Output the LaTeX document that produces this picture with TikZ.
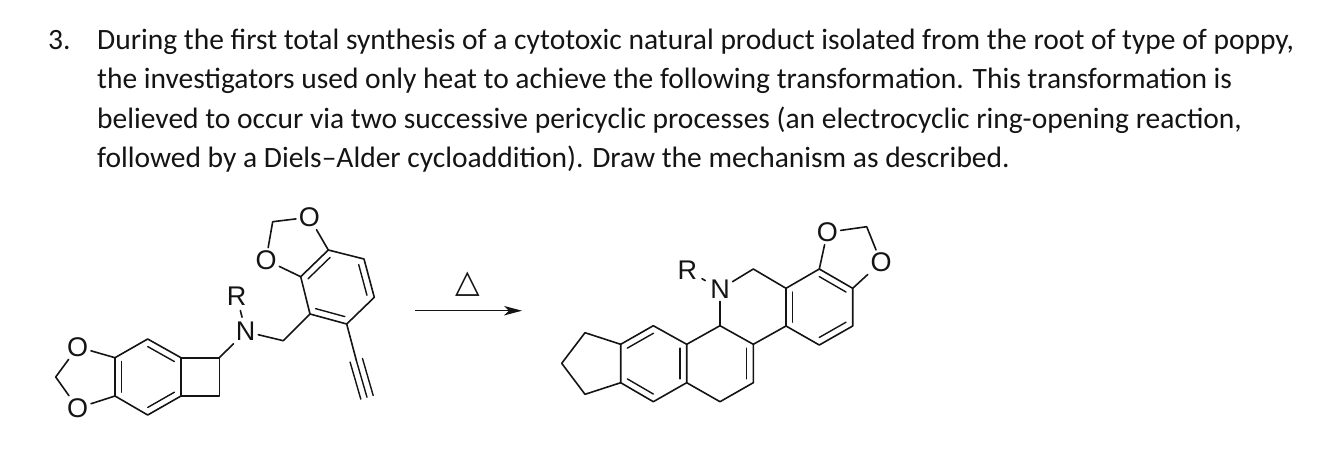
\documentclass[tikz,border=0pt]{standalone}
\usepackage{fontspec}
\setmainfont{Carlito}
\newfontfamily\chemfont{Liberation Sans}
\newfontfamily\symfont{DejaVu Sans}
\usetikzlibrary{arrows.meta,calc}
\definecolor{ink}{HTML}{141414}
\tikzset{
  x=1pt,y=-1pt,
  para/.style={anchor=base west,inner sep=0pt,text=ink,font=\fontsize{29.5}{32}\selectfont},
  atom/.style={inner sep=2.6pt,text=ink,font=\chemfont\fontsize{27}{29}\selectfont},
  bond/.style={draw=ink,line width=1.6pt,line cap=round,line join=round},
  shortbond/.style={bond,shorten >=2.5pt,shorten <=2.5pt},
  inbond/.style={draw=ink,line width=1.4pt,line cap=round},
  rxnarrow/.style={draw=ink,line width=1.5pt,-{Stealth[length=18pt,width=9.5pt,inset=5pt]}}
}
\newcommand{\dblin}[3]{\draw[inbond] ($(#1)!0.2!(#3)$) -- ($(#2)!0.2!(#3)$);}
\begin{document}
\begin{tikzpicture}
\useasboundingbox (0,0) rectangle (1318,456);
% question text
\node[para] (num) at (48,49) {3.};
\node[para] (l1) at (97,49) {During the first total synthesis of a cytotoxic natural product isolated from the root of type of poppy,};
\node[para] (l2) at (97,88) {the investigators used only heat to achieve the following transformation. This transformation is};
\node[para] (l3) at (97,128) {believed to occur via two successive pericyclic processes (an electrocyclic ring-opening reaction,};
\node[para] (l4) at (97,167) {followed by a Diels–Alder cycloaddition). Draw the mechanism as described.};
% left molecule atoms
\node[atom] (LO1) at (77.7,347) {O};
\node[atom] (LO2) at (77.7,408) {O};
\coordinate (LC) at (55.7,377);
\coordinate (La) at (115,357.7);
\coordinate (Lb) at (115,396);
\coordinate (Lc) at (147.7,415);
\coordinate (Ld) at (181,396);
\coordinate (Le) at (181,357.7);
\coordinate (Lf) at (147.7,339);
\coordinate (Lm) at (148,377);
\coordinate (Lg) at (219.3,357.7);
\coordinate (Lh) at (219.3,396);
\node[atom] (LN) at (245.7,331.7) {N};
\node[atom] (LR) at (236.7,296) {R};
\coordinate (LCH) at (283.3,340.7);
\coordinate (P1) at (310,314);
\coordinate (P2) at (346.7,324);
\coordinate (P3) at (374.3,297.3);
\coordinate (P4) at (364,259);
\coordinate (P5) at (328.3,250);
\coordinate (P6) at (300.7,276.7);
\coordinate (Pm) at (337.5,287);
\node[atom] (PO1) at (266,260) {O};
\node[atom] (PO2) at (309.3,217.3) {O};
\coordinate (PC) at (272.7,221.7);
\coordinate (T1) at (356.3,360.3);
\coordinate (T2) at (367,397.3);
% left molecule bonds
\draw[bond] (LO1) -- (LC) -- (LO2);
\draw[bond] (LO1) -- (La);
\draw[bond] (LO2) -- (Lb);
\draw[bond] (La) -- (Lb) -- (Lc) -- (Ld) -- (Le) -- (Lf) -- cycle;
\dblin{La}{Lb}{Lm}
\dblin{Lc}{Ld}{Lm}
\dblin{Le}{Lf}{Lm}
\draw[bond] (Le) -- (Lg) -- (Lh) -- (Ld);
\draw[bond] (Lg) -- (LN);
\draw[shortbond] (LN) -- (LR);
\draw[bond] (LN) -- (LCH) -- (P1);
\draw[bond] (P1) -- (P2) -- (P3) -- (P4) -- (P5) -- (P6) -- cycle;
\dblin{P1}{P2}{Pm}
\dblin{P3}{P4}{Pm}
\dblin{P5}{P6}{Pm}
\draw[bond] (P6) -- (PO1) -- (PC) -- (PO2) -- (P5);
\draw[bond] (P2) -- (T1);
\draw[inbond] (T1) -- (T2);
\draw[inbond] ($(T1)+(-6.2,1.8)$) -- ($(T2)+(-6.2,1.8)$);
\draw[inbond] ($(T1)+(6.2,-1.8)$) -- ($(T2)+(6.2,-1.8)$);
% reaction arrow
\coordinate (A1) at (415,310.7);
\coordinate (A2) at (522,310.7);
\draw[rxnarrow] (A1) -- (A2);
\node[inner sep=0pt,text=ink,font=\symfont\fontsize{32}{35}\selectfont] (delta) at (468,284.5) {△};
% right molecule atoms
\coordinate (R1) at (585,332.7);
\coordinate (R2) at (561.7,363.3);
\coordinate (R3) at (585,394.3);
\coordinate (R4) at (620.7,382.7);
\coordinate (R5) at (620.7,344.3);
\coordinate (R6) at (653.3,325.7);
\coordinate (R7) at (686.7,344.3);
\coordinate (R8) at (686.7,382.7);
\coordinate (R9) at (653.3,401.7);
\coordinate (Rm1) at (653.7,363.5);
\coordinate (R10) at (720,325.7);
\coordinate (R11) at (753.3,344.3);
\coordinate (R12) at (753.3,382.7);
\coordinate (R13) at (720,401.7);
\coordinate (Rm2) at (720,363.5);
\node[atom] (RN) at (720,289.3) {N};
\node[atom] (RR) at (687.3,270) {R};
\coordinate (R14) at (753.3,269);
\coordinate (R15) at (786,288.3);
\coordinate (R16) at (786,326);
\coordinate (R17) at (819.3,345);
\coordinate (R18) at (852.7,326);
\coordinate (R19) at (852.7,288.3);
\coordinate (R20) at (819.3,269);
\coordinate (Rm3) at (819.3,307);
\node[atom] (RO1) at (827.3,232.3) {O};
\node[atom] (RO2) at (881,262.3) {O};
\coordinate (RC) at (866.7,226.7);
% right molecule bonds
\draw[bond] (R5) -- (R1) -- (R2) -- (R3) -- (R4);
\draw[bond] (R4) -- (R5) -- (R6) -- (R7) -- (R8) -- (R9) -- cycle;
\dblin{R5}{R6}{Rm1}
\dblin{R7}{R8}{Rm1}
\dblin{R9}{R4}{Rm1}
\draw[bond] (R7) -- (R10) -- (R11) -- (R12) -- (R13) -- (R8);
\dblin{R11}{R12}{Rm2}
\draw[bond] (R10) -- (RN);
\draw[shortbond] (RN) -- (RR);
\draw[bond] (RN) -- (R14) -- (R15);
\draw[bond] (R11) -- (R16);
\draw[bond] (R15) -- (R16) -- (R17) -- (R18) -- (R19) -- (R20) -- cycle;
\dblin{R15}{R16}{Rm3}
\dblin{R17}{R18}{Rm3}
\dblin{R19}{R20}{Rm3}
\draw[bond] (R20) -- (RO1) -- (RC) -- (RO2) -- (R19);
\end{tikzpicture}
\end{document}
